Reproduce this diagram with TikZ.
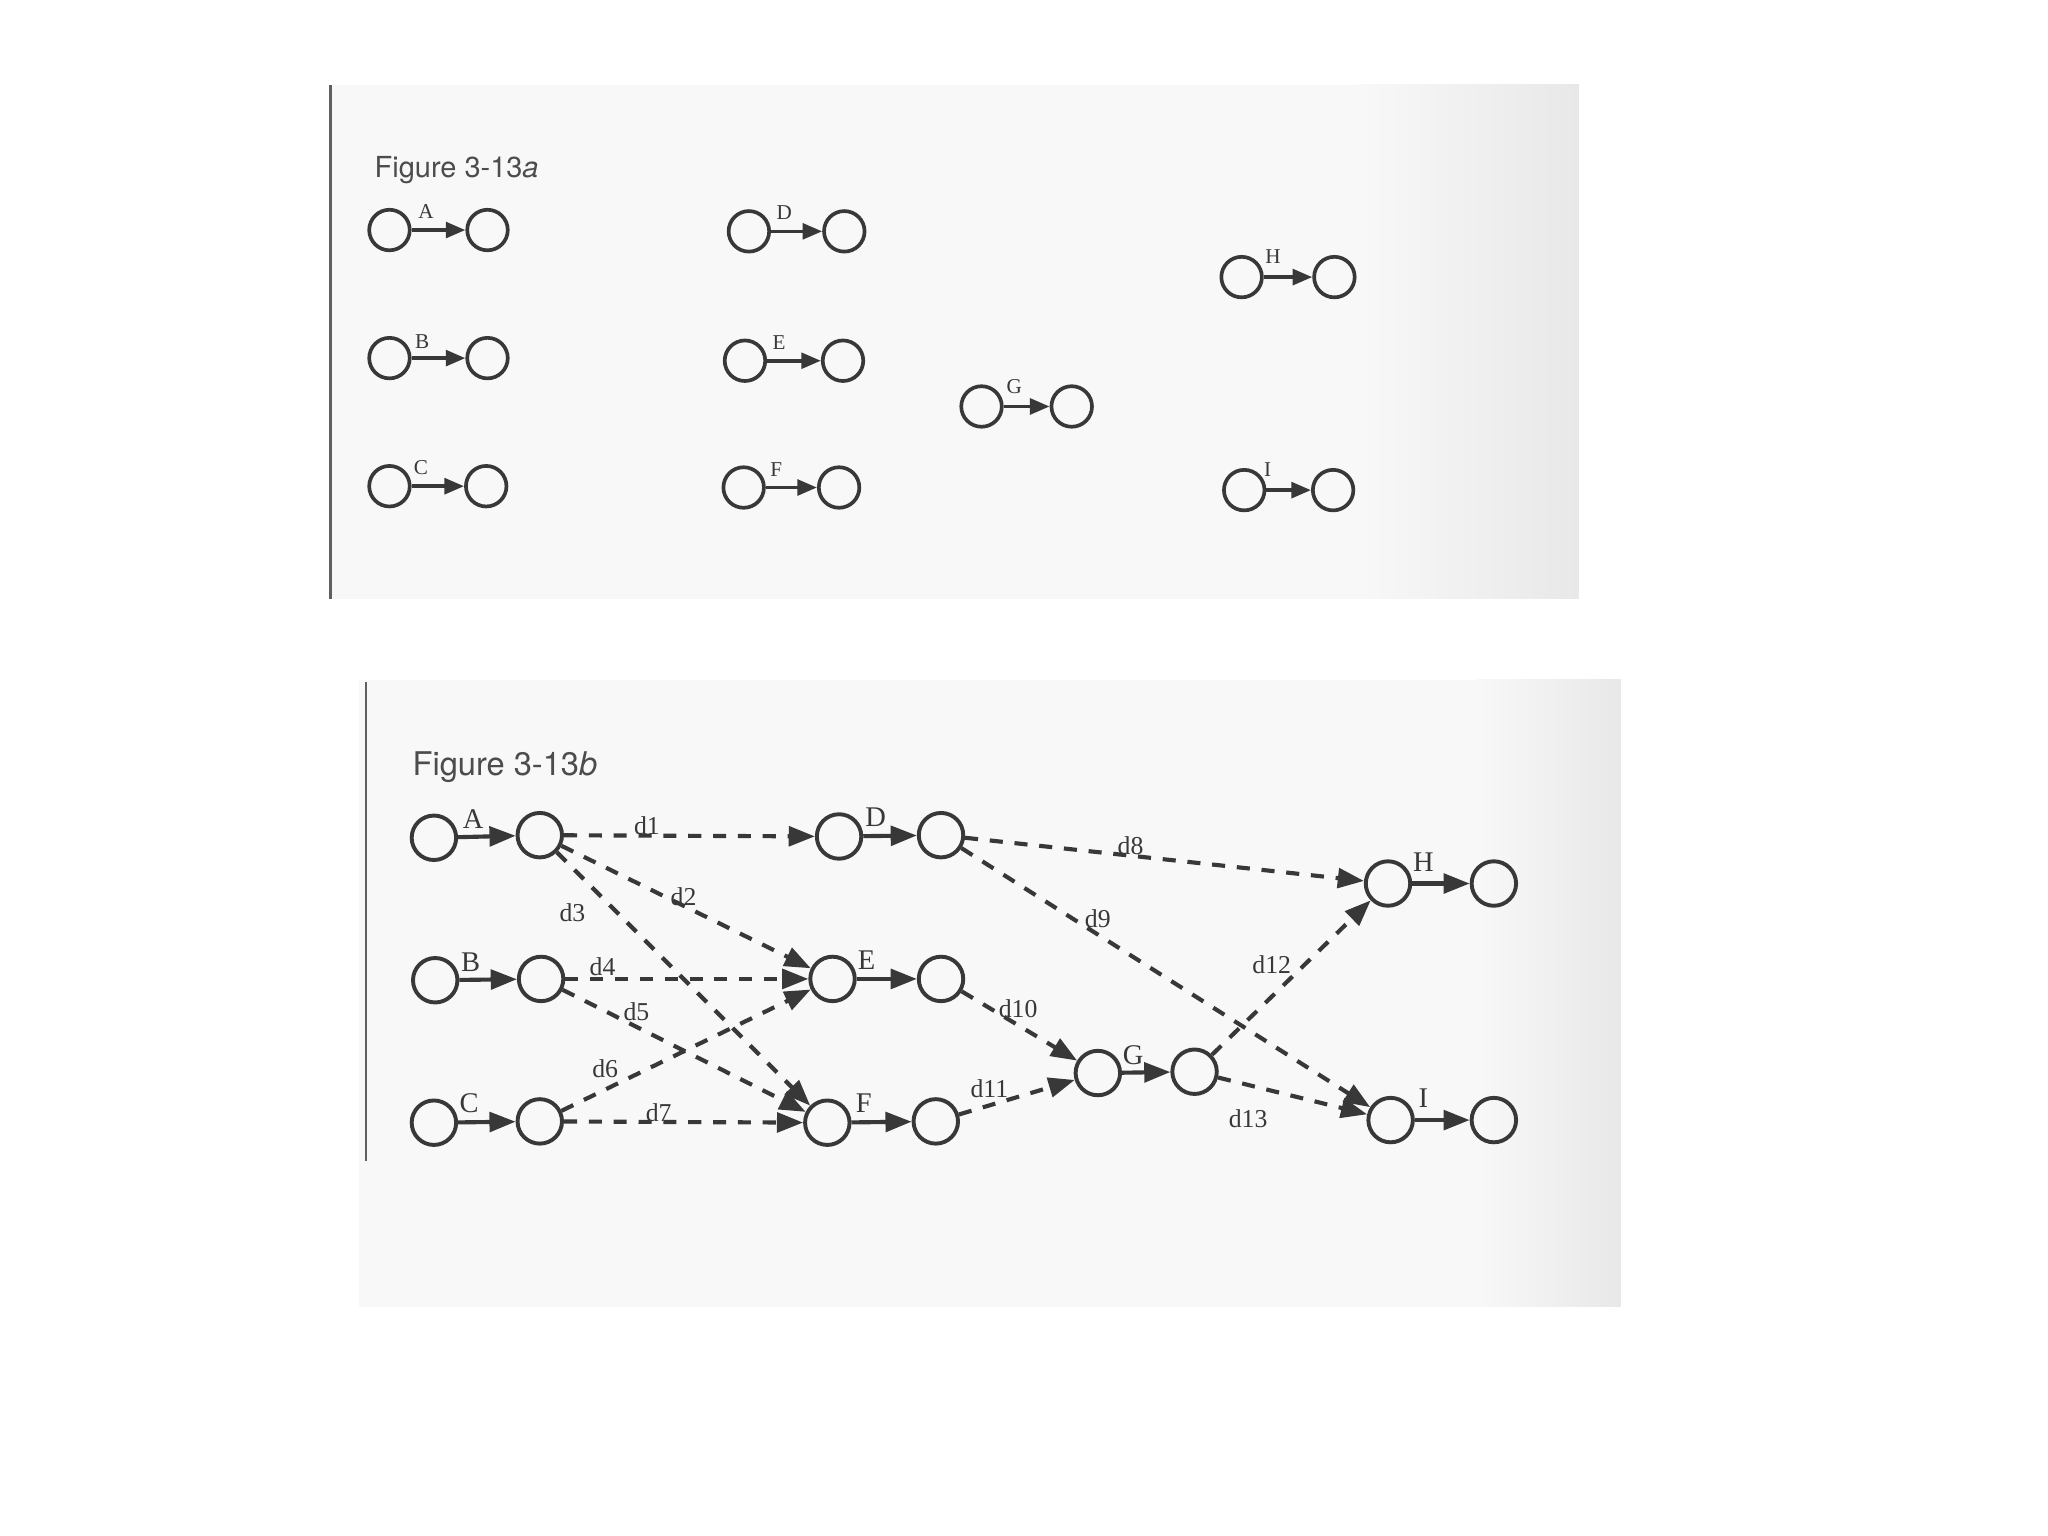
\documentclass[tikz,border=0pt]{standalone}
\usepackage{fontspec}
\setmainfont{Liberation Serif}
\newfontfamily\figfont{TeX Gyre Heros}
\usetikzlibrary{arrows.meta,positioning}

\definecolor{ink}{HTML}{383838}
\definecolor{paper}{HTML}{F8F8F8}

\begin{document}
\begin{tikzpicture}[x=0.01cm,y=-0.01cm,
  evt/.style={draw=ink,circle,line width=0.8pt,inner sep=0pt,minimum size=0.31cm},
  evtb/.style={evt,line width=0.85pt,minimum size=0.34cm},
  act/.style={draw=ink,line width=0.8pt,-{Triangle[length=0.15cm,width=0.12cm]}},
  actb/.style={draw=ink,line width=0.9pt,-{Triangle[length=0.2cm,width=0.15cm]}},
  dum/.style={actb,dash pattern=on 0.1cm off 0.09cm},
  lbla/.style={text=ink,font=\fontsize{4.6}{5}\selectfont,inner sep=0pt},
  lblb/.style={text=ink,font=\fontsize{6.2}{7}\selectfont,inner sep=0pt},
  dlbl/.style={text=ink,font=\fontsize{5.6}{6}\selectfont,inner sep=0pt},
  ttl/.style={text=ink!90,anchor=west,inner sep=0pt}]
  \useasboundingbox (0,0) rectangle (1567,1175);
  % paper of the two scans
  \fill[paper] (253,65) rectangle (1208,458);
  \shade[left color=paper,right color=black!9] (1040,65) rectangle (1208,458);
  \fill[paper] (275,520) rectangle (1240,1000);
  \shade[left color=paper,right color=black!9] (1130,520) rectangle (1240,1000);
  \draw[ink!80,line width=0.6pt] (253,65) -- (253,458);
  \draw[ink!80,line width=0.6pt] (280,522) -- (280,888);

  % Figure 3-13a
  \node[ttl,font=\figfont\fontsize{6.3}{7}\selectfont] (ta) at (286,130) {Figure 3-13\textit{a}};
  \node[evt] (aA1) at (298,176) {};
  \node[evt] (aA2) at (373,176) {};
  \node[evt] (aB1) at (298,274) {};
  \node[evt] (aB2) at (373,274) {};
  \node[evt] (aC1) at (298,372) {};
  \node[evt] (aC2) at (372,372) {};
  \node[evt] (aD1) at (573,177) {};
  \node[evt] (aD2) at (646,177) {};
  \node[evt] (aE1) at (570,276) {};
  \node[evt] (aE2) at (645,276) {};
  \node[evt] (aF1) at (569,373) {};
  \node[evt] (aF2) at (642,373) {};
  \node[evt] (aG1) at (751,311) {};
  \node[evt] (aG2) at (820,311) {};
  \node[evt] (aH1) at (950,212) {};
  \node[evt] (aH2) at (1021,212) {};
  \node[evt] (aI1) at (952,375) {};
  \node[evt] (aI2) at (1020,375) {};
  \node[lbla] (taA) at (326,162) {A};
  \node[lbla] (taB) at (323,261) {B};
  \node[lbla] (taC) at (322,358) {C};
  \node[lbla] (taD) at (600,163) {D};
  \node[lbla] (taE) at (596,262) {E};
  \node[lbla] (taF) at (594,359) {F};
  \node[lbla] (taG) at (776,296) {G};
  \node[lbla] (taH) at (974,196) {H};
  \node[lbla] (taI) at (970,359) {I};
  \draw[act] (aA1) -- (aA2);
  \draw[act] (aB1) -- (aB2);
  \draw[act] (aC1) -- (aC2);
  \draw[act] (aD1) -- (aD2);
  \draw[act] (aE1) -- (aE2);
  \draw[act] (aF1) -- (aF2);
  \draw[act] (aG1) -- (aG2);
  \draw[act] (aH1) -- (aH2);
  \draw[act] (aI1) -- (aI2);

  % Figure 3-13b
  \node[ttl,font=\figfont\fontsize{7.1}{8}\selectfont] (tb) at (315,587) {Figure 3-13\textit{b}};
  \node[evtb] (A1) at (332,641) {};
  \node[evtb] (A2) at (413,639) {};
  \node[evtb] (B1) at (333,750) {};
  \node[evtb] (B2) at (414,749) {};
  \node[evtb] (C1) at (332,859) {};
  \node[evtb] (C2) at (413,858) {};
  \node[evtb] (D1) at (642,640) {};
  \node[evtb] (D2) at (720,639) {};
  \node[evtb] (E1) at (637,749) {};
  \node[evtb] (E2) at (720,749) {};
  \node[evtb] (F1) at (633,859) {};
  \node[evtb] (F2) at (716,858) {};
  \node[evtb] (G1) at (840,821) {};
  \node[evtb] (G2) at (914,820) {};
  \node[evtb] (H1) at (1062,676) {};
  \node[evtb] (H2) at (1143,676) {};
  \node[evtb] (I1) at (1064,857) {};
  \node[evtb] (I2) at (1143,857) {};
  \node[lblb] (tA) at (362,627) {A};
  \node[lblb] (tB) at (360,736) {B};
  \node[lblb] (tC) at (359,844) {C};
  \node[lblb] (tD) at (670,625) {D};
  \node[lblb] (tE) at (663,735) {E};
  \node[lblb] (tF) at (661,844) {F};
  \node[lblb] (tG) at (867,807) {G};
  \node[lblb] (tH) at (1089,660) {H};
  \node[lblb] (tI) at (1089,840) {I};
  \draw[actb] (A1) -- (A2);
  \draw[actb] (B1) -- (B2);
  \draw[actb] (C1) -- (C2);
  \draw[actb] (D1) -- (D2);
  \draw[actb] (E1) -- (E2);
  \draw[actb] (F1) -- (F2);
  \draw[actb] (G1) -- (G2);
  \draw[actb] (H1) -- (H2);
  \draw[actb] (I1) -- (I2);
  % dummies
  \draw[dum] (A2) -- (D1);
  \draw[dum] (A2) -- (E1);
  \draw[dum] (A2) -- (F1);
  \draw[dum] (B2) -- (E1);
  \draw[dum] (B2) -- (F1);
  \draw[dum] (C2) -- (E1);
  \draw[dum] (C2) -- (F1);
  \draw[dum] (D2) -- (H1);
  \draw[dum] (D2) -- (I1);
  \draw[dum] (E2) -- (G1);
  \draw[dum] (F2) -- (G1);
  \draw[dum] (G2) -- (H1);
  \draw[dum] (G2) -- (I1);
  \node[dlbl] (td1) at (495,632) {d1};
  \node[dlbl] (td2) at (523,686) {d2};
  \node[dlbl] (td3) at (438,698) {d3};
  \node[dlbl] (td4) at (461,740) {d4};
  \node[dlbl] (td5) at (487,774) {d5};
  \node[dlbl] (td6) at (463,818) {d6};
  \node[dlbl] (td7) at (504,851) {d7};
  \node[dlbl] (td8) at (865,647) {d8};
  \node[dlbl] (td9) at (840,703) {d9};
  \node[dlbl] (td10) at (779,772) {d10};
  \node[dlbl] (td11) at (757,833) {d11};
  \node[dlbl] (td12) at (973,738) {d12};
  \node[dlbl] (td13) at (955,856) {d13};
\end{tikzpicture}
\end{document}
